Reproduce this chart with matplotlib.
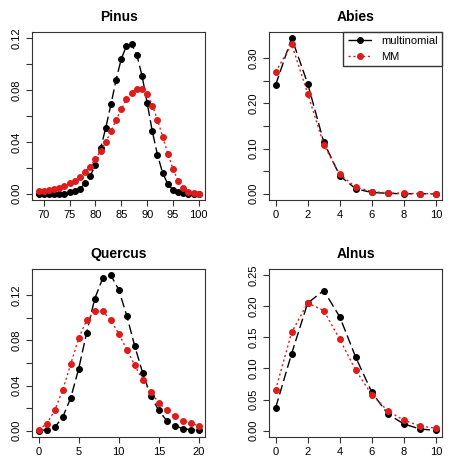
import numpy as np
import matplotlib.pyplot as plt

plt.rcParams['font.family'] = ['Liberation Sans', 'DejaVu Sans']

pinus_x = list(range(69, 101))
pinus_multi = [0, 0, 0, 0, 0, 0, 0.001, 0.002, 0.004, 0.008, 0.014, 0.022, 0.035, 0.051, 0.069, 0.088,
               0.104, 0.114, 0.115, 0.107, 0.091, 0.070, 0.048, 0.030, 0.016, 0.0075, 0.003, 0.001,
               0.0005, 0, 0, 0]
pinus_mm = [0.002, 0.0025, 0.003, 0.0035, 0.0045, 0.006, 0.008, 0.010, 0.013, 0.017, 0.021, 0.027,
            0.033, 0.040, 0.048, 0.057, 0.065, 0.073, 0.078, 0.081, 0.081, 0.077, 0.068, 0.057, 0.044,
            0.031, 0.019, 0.010, 0.0045, 0.0015, 0.0005, 0.0]

abies_x = list(range(0, 11))
abies_multi = [0.241, 0.345, 0.244, 0.115, 0.040, 0.011, 0.003, 0.001, 0, 0, 0]
abies_mm = [0.270, 0.331, 0.222, 0.109, 0.043, 0.015, 0.005, 0.002, 0.001, 0.0005, 0.0003]

quercus_x = list(range(0, 21))
quercus_multi = [0, 0.001, 0.003, 0.012, 0.029, 0.055, 0.087, 0.117, 0.135, 0.138, 0.125, 0.102,
                 0.075, 0.051, 0.031, 0.018, 0.009, 0.0045, 0.002, 0.001, 0.0003]
quercus_mm = [0.001, 0.006, 0.018, 0.036, 0.059, 0.082, 0.098, 0.106, 0.106, 0.098, 0.086, 0.072,
              0.058, 0.045, 0.034, 0.025, 0.018, 0.013, 0.009, 0.0065, 0.0045]

alnus_x = list(range(0, 11))
alnus_multi = [0.037, 0.124, 0.205, 0.225, 0.183, 0.118, 0.062, 0.027, 0.011, 0.003, 0.0005]
alnus_mm = [0.066, 0.158, 0.205, 0.193, 0.147, 0.097, 0.058, 0.032, 0.017, 0.008, 0.004]

panels = [
    ("Pinus", pinus_x, pinus_multi, pinus_mm, [70, 75, 80, 85, 90, 95, 100],
     np.arange(0, 0.121, 0.02), [0, 0.04, 0.08, 0.12]),
    ("Abies", abies_x, abies_multi, abies_mm, [0, 2, 4, 6, 8, 10],
     np.arange(0, 0.301, 0.05), [0, 0.1, 0.2, 0.3]),
    ("Quercus", quercus_x, quercus_multi, quercus_mm, [0, 5, 10, 15, 20],
     np.arange(0, 0.121, 0.02), [0, 0.04, 0.08, 0.12]),
    ("Alnus", alnus_x, alnus_multi, alnus_mm, [0, 2, 4, 6, 8, 10],
     np.arange(0, 0.251, 0.05), np.arange(0, 0.251, 0.05)),
]

fig = plt.figure(figsize=(4.74, 4.74), dpi=100)
lefts = [0.068, 0.568]
bottoms = [0.578, 0.078]
w, h = 0.365, 0.355

for i, (title, x, m, mm, xt, yt, ylab) in enumerate(panels):
    ax = fig.add_axes([lefts[i % 2], bottoms[i // 2], w, h])
    ax.plot(x, m, color='black', linestyle=(0, (7, 3)), linewidth=1, marker='o',
            markersize=4, label='multinomial')
    ax.plot(x, mm, color='#dd1c1c', linestyle=(0, (1.5, 2)), linewidth=1, marker='o',
            markersize=4, markeredgecolor='#dd1c1c', label='MM')
    ax.set_title(title, fontsize=10, fontweight='bold', pad=8)
    ax.set_xticks(xt)
    ax.set_yticks(yt)
    ax.set_yticklabels([("%.2f" % v) if any(abs(v - l) < 1e-9 for l in ylab) else "" for v in yt],
                       rotation=90, va='center')
    ax.tick_params(labelsize=8, direction='out', length=4, color='#333333')
    ymax = max(max(m), max(mm), yt[-1])
    pad = 0.04 * ymax
    ax.set_ylim(-pad, ymax + pad)
    xr = x[-1] - x[0]
    ax.set_xlim(x[0] - 0.04 * xr, x[-1] + 0.04 * xr)
    for s in ax.spines.values():
        s.set_color('#333333')
    if title == "Abies":
        leg = ax.legend(loc='upper right', fontsize=8, fancybox=False, framealpha=1,
                        borderaxespad=0, handlelength=2.2, edgecolor='#333333')
        leg.get_frame().set_linewidth(1)

fig.savefig('out.png', dpi=100)
